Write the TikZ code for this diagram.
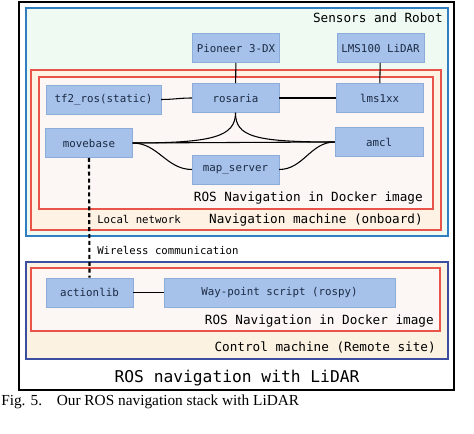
\documentclass[tikz,border=0pt]{standalone}
\usepackage{fontspec}
\usepackage{xcolor}
\usetikzlibrary{arrows.meta}
\newfontfamily\dvmono{DejaVu Sans Mono}
\newfontfamily\capserif{Liberation Serif}

\definecolor{boxfill}{HTML}{A6C2EA}
\definecolor{boxline}{HTML}{8CACDA}
\definecolor{boxtext}{HTML}{1C2A44}
\definecolor{sensfill}{HTML}{EFFBF2}
\definecolor{sensline}{HTML}{2F7FC0}
\definecolor{navfill}{HTML}{FDF2E4}
\definecolor{dockfill}{HTML}{FCF6F4}
\definecolor{redline}{HTML}{E8534A}
\definecolor{ctrlline}{HTML}{3C4EA0}
\definecolor{ctrlfill}{HTML}{FCF2E2}

\begin{document}
\begin{tikzpicture}[x=0.75pt, y=0.75pt,
  box/.style={rectangle, draw=boxline, fill=boxfill, text=boxtext, inner sep=1pt,
    font=\dvmono\fontsize{8.1}{9}\selectfont, minimum width=65pt, minimum height=21.75pt},
  lbl/.style={font=\dvmono\fontsize{9.5}{11}\selectfont, inner sep=0pt},
  note/.style={font=\dvmono\fontsize{8}{9}\selectfont, inner sep=0pt},
  frame/.style={line width=0.9pt},
  conn/.style={draw=black, line width=0.8pt},
  wire/.style={draw=black, line width=1.6pt, dash pattern=on 3pt off 2.2pt}
]
\useasboundingbox (0,0) rectangle (474,-434);
% frames
\draw[line width=1.6pt, fill=white] (19,-2) rectangle (454,-390);
\draw[frame, draw=sensline, fill=sensfill] (26,-8) rectangle (448,-236);
\draw[frame, draw=redline, fill=navfill] (31,-70) rectangle (441,-230);
\draw[frame, draw=redline, fill=dockfill] (39,-77) rectangle (433,-209);
\draw[frame, draw=ctrlline, fill=ctrlfill] (26,-262) rectangle (448,-359);
\draw[frame, draw=redline, fill=dockfill] (31,-268) rectangle (440,-331);
% frame labels
\node[lbl, anchor=east] (lsens) at (443,-18) {Sensors and Robot};
\node[lbl, anchor=east] (ldock) at (423,-198) {ROS Navigation in Docker image};
\node[lbl, anchor=east] (lnav) at (423,-220) {Navigation machine (onboard)};
\node[lbl, anchor=east] (ldock2) at (434,-321) {ROS Navigation in Docker image};
\node[lbl, anchor=east] (lctrl) at (436,-347) {Control machine (Remote site)};
\node[note, anchor=west] (llan) at (97,-219) {Local network};
\node[note, anchor=west] (lwifi) at (97,-250) {Wireless communication};
\node[font=\dvmono\fontsize{12.2}{14}\selectfont] (title) at (237,-378) {ROS navigation with LiDAR};
\node[font=\capserif\fontsize{11.5}{13}\selectfont, anchor=west, inner sep=0pt] (cap) at (1,-402)
  {Fig. 5.\hspace{11pt}Our ROS navigation stack with LiDAR};
% nodes
\node[box] (pio) at (236,-48) {Pioneer 3-DX};
\node[box] (lidar) at (380.5,-48) {LMS100 LiDAR};
\node[box, minimum width=86pt] (tf) at (103.5,-99.5) {tf2\_ros(static)};
\node[box] (ros) at (235.5,-98) {rosaria};
\node[box] (lms) at (379.5,-98) {lms1xx};
\node[box] (mb) at (89,-143) {movebase};
\node[box, minimum width=66pt] (amcl) at (379,-142) {amcl};
\node[box] (map) at (235.5,-169.5) {map\_server};
\node[box] (act) at (89.5,-292.5) {actionlib};
\node[box, minimum width=173pt] (wp) at (279.5,-292.5) {Way-point script (rospy)};
% connectors
\draw[conn] (pio) -- (ros);
\draw[conn] (lidar) -- (lms);
\draw[conn] (tf.east) to[out=0, in=180] (ros.west);
\draw[conn] (ros) -- (lms);
\draw[conn] (ros.south) .. controls +(0,-24) and +(80,0) .. (mb.east);
\draw[conn] (ros.south) .. controls +(0,-24) and +(-80,0) .. (amcl.west);
\draw[conn] (mb.east) -- (amcl.west);
\draw[conn] (mb.east) to[out=0, in=180] (map.west);
\draw[conn] (map.east) to[out=0, in=180] (amcl.west);
\draw[conn] (act) -- (wp);
\draw[wire] (mb.south) -- (act.north);
\end{tikzpicture}
\end{document}
